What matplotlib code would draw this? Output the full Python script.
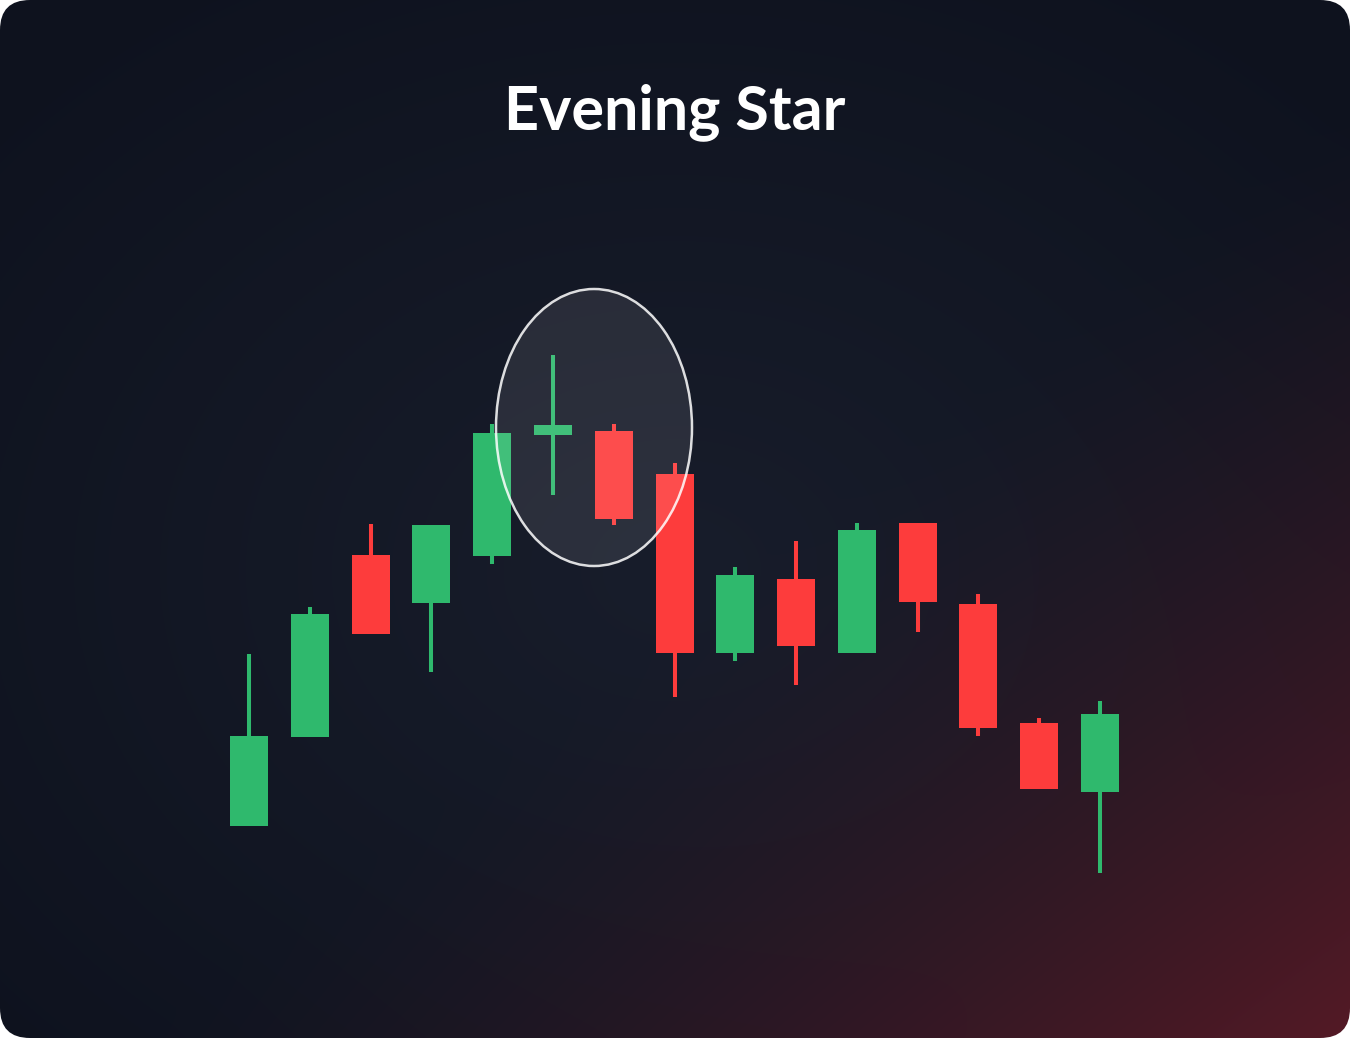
import numpy as np
import matplotlib
matplotlib.use("Agg")
import matplotlib.pyplot as plt
from matplotlib.patches import FancyBboxPatch, Ellipse

# ---- data (price units) ----
opens  = [212, 301, 483, 435, 482, 603, 607, 564, 385, 459, 385, 515, 434, 315, 246]
highs  = [384, 431, 514, 513, 614, 683, 614, 575, 471, 497, 515, 515, 444, 320, 337]
lows   = [212, 301, 404, 366, 474, 543, 513, 341, 377, 353, 385, 406, 302, 249, 165]
closes = [302, 424, 404, 513, 605, 613, 519, 385, 463, 392, 508, 436, 310, 249, 324]
title = "Evening Star"

GREEN = "#2fb96d"
RED = "#fd3c3c"

W, H = 1350, 1038
fig = plt.figure(figsize=(W / 100, H / 100), dpi=100, facecolor="white")

# ---- background ----
bg = fig.add_axes([0, 0, 1, 1])
bg.set_xlim(0, W)
bg.set_ylim(H, 0)
bg.axis("off")
yy, xx = np.mgrid[0:H, 0:W]
nx, ny = xx / W, yy / H
edge = np.array([14, 18, 30]) / 255
center = np.array([24, 29, 43]) / 255
maroon = np.array([84, 26, 38]) / 255
r = np.sqrt(((nx - 0.5) / 0.7) ** 2 + ((ny - 0.55) / 0.7) ** 2)
tb = np.clip(1 - r, 0, 1)[..., None]
img = edge + (center - edge) * tb
t = (nx + ny) / 2
wm = np.clip((t - 0.55) / 0.45, 0, 1) ** 1.4
img = img * (1 - wm[..., None]) + maroon * wm[..., None]
im = bg.imshow(img, extent=[0, W, H, 0], interpolation="bilinear", zorder=0)
clip = FancyBboxPatch((0, 0), W, H, boxstyle="round,pad=0,rounding_size=30",
                      transform=bg.transData, facecolor="none", edgecolor="none")
bg.add_patch(clip)
im.set_clip_path(clip)

# ---- candles ----
ax = fig.add_axes([0, 0, 1, 1])
ax.patch.set_alpha(0)
ax.axis("off")
n = len(opens)
x = np.arange(n)
first_px, last_px = 249, 1100
step = (last_px - first_px) / (n - 1)
ax.set_xlim(-first_px / step, (n - 1) + (W - last_px) / step)
ax.set_ylim(0, H)

cols = [GREEN if c >= o else RED for o, c in zip(opens, closes)]
ax.vlines(x, lows, highs, colors=cols, linewidth=2.9, capstyle="butt", zorder=2)
bottoms = [min(o, c) for o, c in zip(opens, closes)]
heights = [max(abs(c - o), 1) for o, c in zip(opens, closes)]
ax.bar(x, heights, bottom=bottoms, width=38 / step, color=cols, linewidth=0, zorder=3)

# highlight ellipse around the evening star
ell_cx = (594 - first_px) / step
ax.add_patch(Ellipse((ell_cx, H - 427.5), 196 / step, 277,
                     facecolor=(1, 1, 1, 0.09), edgecolor=(1, 1, 1, 0.85),
                     linewidth=1.8, zorder=4))

fig.text(0.5, 1 - 112 / H, title, ha="center", va="center", color="white",
         fontsize=44, fontweight="bold", family=["Lato", "DejaVu Sans"])

fig.savefig("out.png", dpi=100, facecolor="white")
